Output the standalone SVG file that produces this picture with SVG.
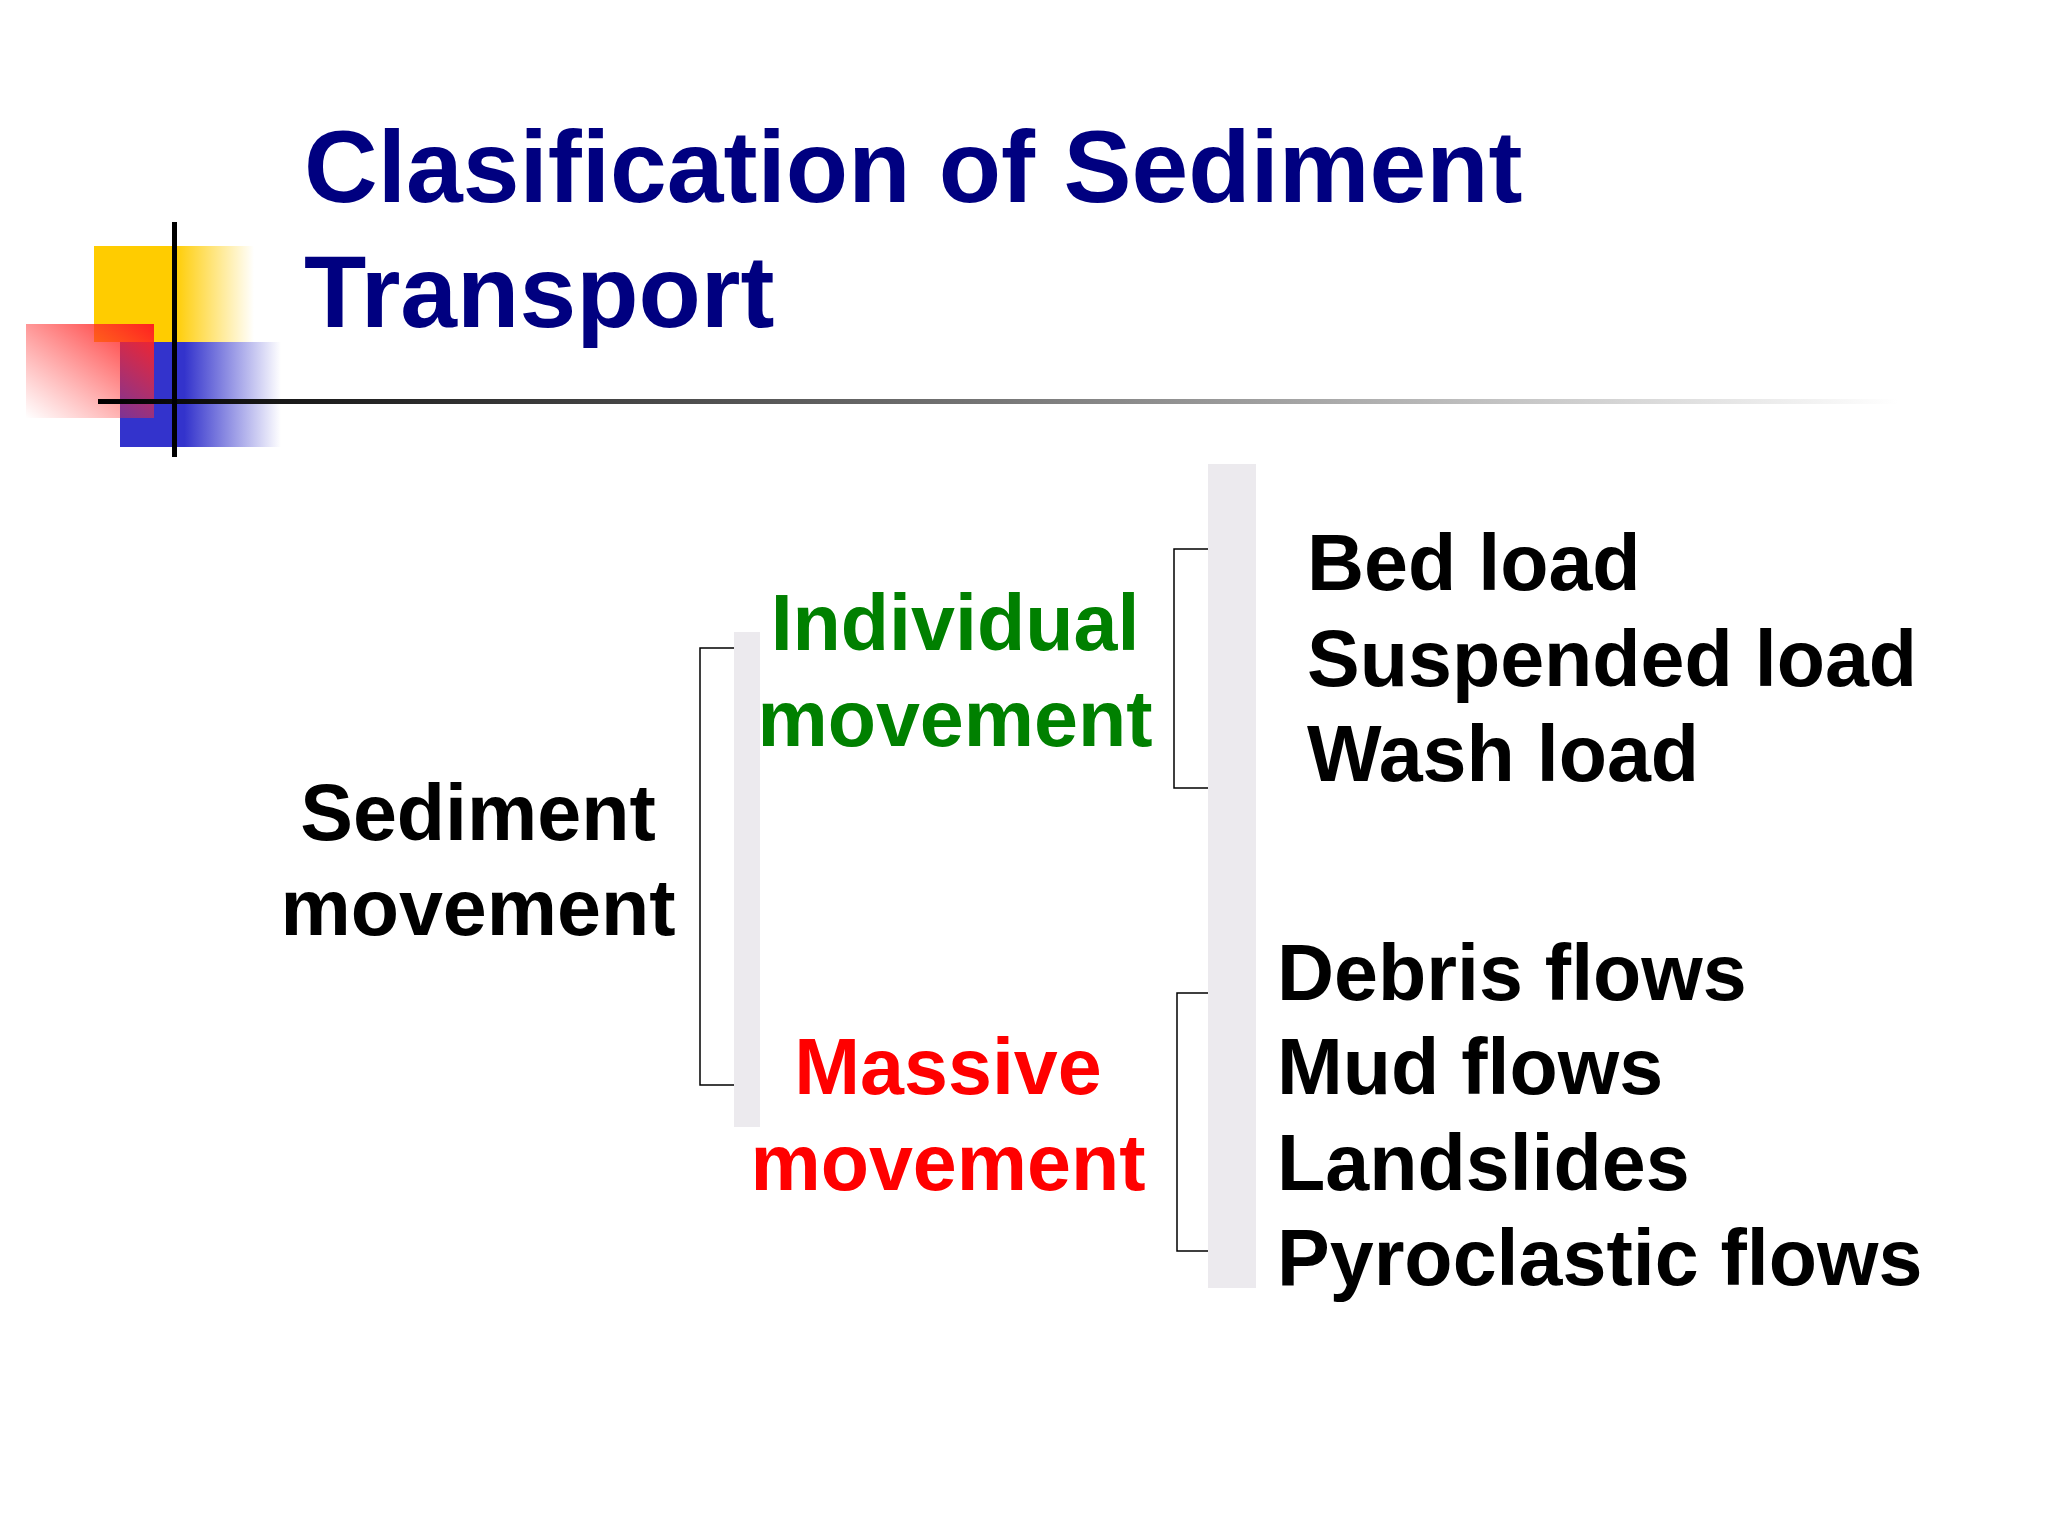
<svg xmlns="http://www.w3.org/2000/svg" width="2048" height="1536" viewBox="0 0 2048 1536">
<defs>
<linearGradient id="hl" x1="0" x2="1" y1="0" y2="0"><stop offset="0" stop-color="#000"/><stop offset="0.5" stop-color="#777"/><stop offset="1" stop-color="#fff"/></linearGradient>
<linearGradient id="yl" x1="0" x2="1"><stop offset="0.5" stop-color="#ffcc00"/><stop offset="1" stop-color="#ffcc00" stop-opacity="0"/></linearGradient>
<linearGradient id="rd" x1="1" x2="0" y1="0" y2="1"><stop offset="0" stop-color="#ff2020"/><stop offset="1" stop-color="#ff4040" stop-opacity="0"/></linearGradient>
<linearGradient id="bl" x1="0" x2="1"><stop offset="0.4" stop-color="#3333cc"/><stop offset="1" stop-color="#3333cc" stop-opacity="0"/></linearGradient>
<style>
.t{font-family:"Liberation Sans",Arial,sans-serif;font-weight:bold}
.b{font-size:79px;fill:#000}
.br{fill:none;stroke:#000;stroke-width:1.5}
.bar{fill:#eceaee}
</style>
</defs>
<rect width="2048" height="1536" fill="#fff"/>
<g id="deco">
<rect x="94" y="246" width="160" height="96" fill="url(#yl)"/>
<rect x="120" y="342" width="161" height="105" fill="url(#bl)"/>
<rect x="26" y="324" width="128" height="94" fill="url(#rd)"/>
<rect x="98" y="399" width="1800" height="5" fill="url(#hl)"/>
<rect x="172" y="222" width="5" height="235" fill="#000"/>
</g>
<g id="title" class="t" fill="#000080" font-size="102">
<text x="304" y="202">Clasification of Sediment</text>
<text x="304" y="327">Transport</text>
</g>
<g id="connectors">
<rect class="bar" x="734" y="632" width="26" height="495"/>
<rect class="bar" x="1208" y="464" width="48" height="824"/>
<path class="br" d="M734 648H700V1085H734"/>
<path class="br" d="M1208 549H1174V788H1208"/>
<path class="br" d="M1208 993H1177V1251H1208"/>
</g>
<g id="sediment" class="t b" text-anchor="middle"><text x="478" y="840">Sediment</text><text x="478" y="935">movement</text></g>
<g id="individual" class="t" font-size="79" fill="#008000" text-anchor="middle"><text x="955" y="650">Individual</text><text x="955" y="746">movement</text></g>
<g id="massive" class="t" font-size="79" fill="#ff0000" text-anchor="middle"><text x="948" y="1094">Massive</text><text x="948" y="1190">movement</text></g>
<g id="loads" class="t b"><text x="1307" y="590">Bed load</text><text x="1307" y="686">Suspended load</text><text x="1307" y="781">Wash load</text></g>
<g id="flows" class="t b"><text x="1277" y="1000">Debris flows</text><text x="1277" y="1094">Mud flows</text><text x="1277" y="1190">Landslides</text><text x="1277" y="1285">Pyroclastic flows</text></g>
</svg>
